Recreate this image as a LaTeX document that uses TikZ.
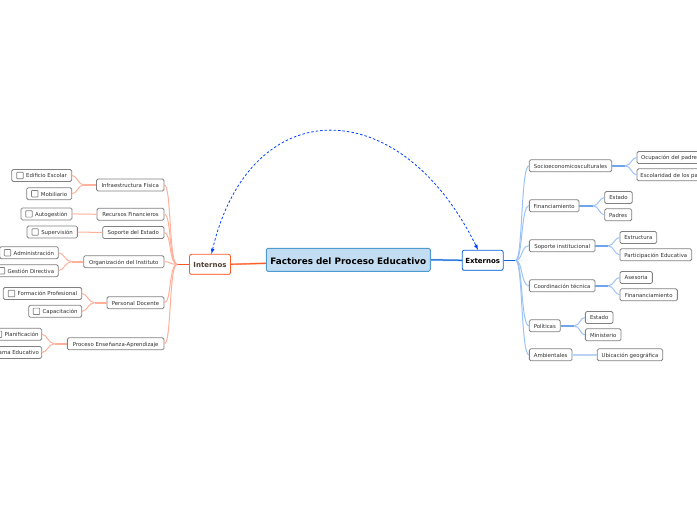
\documentclass[tikz,border=0pt]{standalone}
\usepackage{fontspec}
\setmainfont{DejaVu Sans}
\usetikzlibrary{shadows}
\definecolor{greyline}{HTML}{808080}
\definecolor{greytext}{HTML}{303030}
\definecolor{orangedark}{HTML}{FF5A26}
\definecolor{orangepale}{HTML}{FFB09A}
\definecolor{bluedark}{HTML}{0B63D6}
\definecolor{bluepale}{HTML}{9CC2F5}
\definecolor{titlefill}{HTML}{C2DDF2}
\definecolor{titleline}{HTML}{4D9BD1}

\tikzstyle{topic} = [draw=greyline, line width=.8pt, rounded corners=1.5pt, fill=white, inner sep=0pt, minimum height=12pt, text=greytext, text height=5.8pt, text depth=1.2pt, font=\fontsize{5.4}{6}\selectfont]
\tikzstyle{chkbox} = [draw=greyline, line width=.7pt, rounded corners=.6pt, inner sep=0pt, minimum size=6.4pt]
\tikzstyle{linko} = [orangepale, line width=1pt]
\tikzstyle{stubo} = [orangepale, line width=1.6pt]
\tikzstyle{linkb} = [bluepale, line width=1pt]
\tikzstyle{stubb} = [bluepale!70!bluedark, line width=1.6pt]
\newcommand{\chk}{\tikz[baseline=-2.3pt]\node[chkbox]{};\hspace{2.6pt}}

\begin{document}
\begin{tikzpicture}[x=1pt,y=-1pt]
      \useasboundingbox (0,0) rectangle (697,520);
      % main nodes
      \node[rectangle, draw=titleline, fill=titlefill, line width=.9pt, rounded corners=1.5pt, minimum width=164pt, minimum height=23pt, inner sep=0pt, text height=9.6pt, text depth=1pt, font=\fontsize{8.85}{10}\selectfont\bfseries] (title) at (348.3,259.8) {Factores del Proceso Educativo};
      \node[rectangle, draw=orangedark, fill=white, line width=.8pt, rounded corners=2pt, minimum width=41pt, minimum height=20pt, inner sep=0pt, text=greytext!80!brown, text height=7pt, text depth=1pt, drop shadow={shadow xshift=0pt, shadow yshift=-.6pt, fill=orangepale, opacity=1}, font=\fontsize{7}{8}\selectfont\bfseries] (int) at (210,264.3) {Internos};
      \node[rectangle, draw=bluedark, fill=white, line width=.8pt, rounded corners=2pt, minimum width=41pt, minimum height=20pt, inner sep=0pt, text height=7pt, text depth=1pt, drop shadow={shadow xshift=0pt, shadow yshift=-.6pt, fill=bluepale, opacity=1}, font=\fontsize{7}{8}\selectfont\bfseries] (ext) at (482.7,260.3) {Externos};
      % left side
      \node[topic, minimum width=67.5pt] (infra) at (130.2,185) {Infraestructura Física};
      \node[topic, minimum width=60pt] (edificio) at (41.7,175.5) {\chk Edificio Escolar};
      \node[topic, minimum width=45pt] (mobil) at (49.2,193.7) {\chk Mobiliario};
      \node[topic, minimum width=67pt] (recursos) at (130.5,214.3) {Recursos Financieros};
      \node[topic, minimum width=51pt] (autog) at (46.5,213.9) {\chk Autogestión};
      \node[topic, minimum width=61.3pt] (soporte) at (133.3,232.5) {Soporte del Estado};
      \node[topic, minimum width=50.3pt] (superv) at (52.2,232) {\chk Supervisión};
      \node[topic, minimum width=80.3pt] (organ) at (123.8,261.7) {Organización del Instituto};
      \node[topic, minimum width=58.6pt] (admin) at (29,252.7) {\chk Administración};
      \node[topic, minimum width=64.3pt] (gestion) at (26.1,270.7) {\chk Gestión Directiva};
      \node[topic, minimum width=57pt] (personal) at (135.5,302.7) {Personal Docente};
      \node[topic, minimum width=78.4pt] (formac) at (42.5,293.5) {\chk Formación Profesional};
      \node[topic, minimum width=53pt] (capac) at (55.2,311.3) {\chk Capacitación};
      \node[topic, minimum width=96.7pt] (proceso) at (115.7,343.8) {Proceso Enseñanza-Aprendizaje};
      \node[topic, minimum width=49.7pt] (planif) at (16.8,334.3) {\chk Planificación};
      \node[topic, minimum width=69.5pt] (progr) at (6.9,352.5) {\chk Programa Educativo};
      % right side
      \node[topic, minimum width=82.4pt] (socio) at (570.5,165.8) {Socioeconomicosculturales};
      \node[topic, minimum width=64pt] (ocupa) at (669,157.5) {Ocupación del padre};
      \node[topic, minimum width=76pt] (escol) at (675,174.8) {Escolaridad de los padres};
      \node[topic, minimum width=49.7pt] (financ) at (554.2,205.8) {Financiamiento};
      \node[topic, minimum width=27.6pt] (estado) at (618.5,197.5) {Estado};
      \node[topic, minimum width=27pt] (padres) at (618.2,214.8) {Padres};
      \node[topic, minimum width=65.7pt] (instit) at (562.2,245.8) {Soporte institucional};
      \node[topic, minimum width=36.7pt] (estruc) at (638.3,237.5) {Estructura};
      \node[topic, minimum width=71.7pt] (partic) at (655.8,254.8) {Participación Educativa};
      \node[topic, minimum width=65.7pt] (coord) at (562.2,285.8) {Coordinación técnica};
      \node[topic, minimum width=32.3pt] (asesor) at (636.2,277.5) {Asesoria};
      \node[topic, minimum width=57.3pt] (finan) at (648.7,294.8) {Finananciamiento};
      \node[topic, minimum width=31pt] (polit) at (544.8,325.8) {Políticas};
      \node[topic, minimum width=27.7pt] (estadob) at (599.2,317.5) {Estado};
      \node[topic, minimum width=35.7pt] (minis) at (603.2,334.8) {Ministerio};
      \node[topic, minimum width=42.7pt] (ambien) at (550.7,354.8) {Ambientales};
      \node[topic, minimum width=65.4pt] (ubica) at (630,354.8) {Ubicación geográfica};
      % forks
      \coordinate (fint) at (177,264.3);
      \coordinate (fext) at (515.7,260.3);
      \coordinate (f1) at (84,185);
      \coordinate (f2) at (71.5,261.7);
      \coordinate (f3) at (94.5,302.7);
      \coordinate (f4) at (54.5,343.8);
      \coordinate (f5) at (625,165.8);
      \coordinate (f6) at (593,205.8);
      \coordinate (f7) at (608,245.8);
      \coordinate (f8) at (608,285.8);
      \coordinate (f9) at (574,325.8);
      % internos
      \draw[orangepale, line width=1.8pt] ([yshift=-3.5pt]title.west) -- (int.east);
      \draw[orangedark, line width=1pt] ([yshift=-3.5pt]title.west) -- (int.east);
      \draw[orangedark, line width=1pt] (int.west) -- (fint);
      \foreach \n in {infra,recursos,soporte,organ,personal,proceso}
        \draw[linko] (fint) .. controls +(-8,0) and +(7,0) .. (\n.east);
      \draw[stubo] (infra.west) -- (f1);
      \draw[stubo] (organ.west) -- (f2);
      \draw[stubo] (personal.west) -- (f3);
      \draw[stubo] (proceso.west) -- (f4);
      \foreach \a/\b in {f1/edificio,f1/mobil,f2/admin,f2/gestion,f3/formac,f3/capac,f4/planif,f4/progr}
        \draw[linko] (\a) .. controls +(-6,0) and +(5,0) .. (\b.east);
      \draw[linko] (recursos.west) -- (autog.east);
      \draw[linko] (soporte.west) -- (superv.east);
      % externos
      \draw[bluepale, line width=2pt] (title.east) -- (ext.west);
      \draw[bluedark, line width=1pt] (title.east) -- (ext.west);
      \draw[bluedark, line width=1pt] (ext.east) -- (fext);
      \foreach \n in {socio,financ,instit,coord,polit,ambien}
        \draw[linkb] (fext) .. controls +(7,0) and +(-8,0) .. (\n.west);
      \foreach \a/\b in {socio/f5,financ/f6,instit/f7,coord/f8,polit/f9}
        \draw[stubb] (\a.east) -- (\b);
      \foreach \a/\b in {f5/ocupa,f5/escol,f6/estado,f6/padres,f7/estruc,f7/partic,f8/asesor,f8/finan,f9/estadob,f9/minis}
        \draw[linkb] (\a) .. controls +(6,0) and +(-5,0) .. (\b.west);
      \draw[bluepale!70!white, line width=1.6pt] (ambien.east) -- (ubica.west);
      % relation
      \draw[blue!75!cyan, dash pattern=on 2.5pt off 2pt, line width=.8pt, <->, >=latex] ([xshift=1.5pt]int.north) .. controls (250,91) and (400,91) .. ([xshift=-4.7pt]ext.north);
    \end{tikzpicture}
\end{document}
